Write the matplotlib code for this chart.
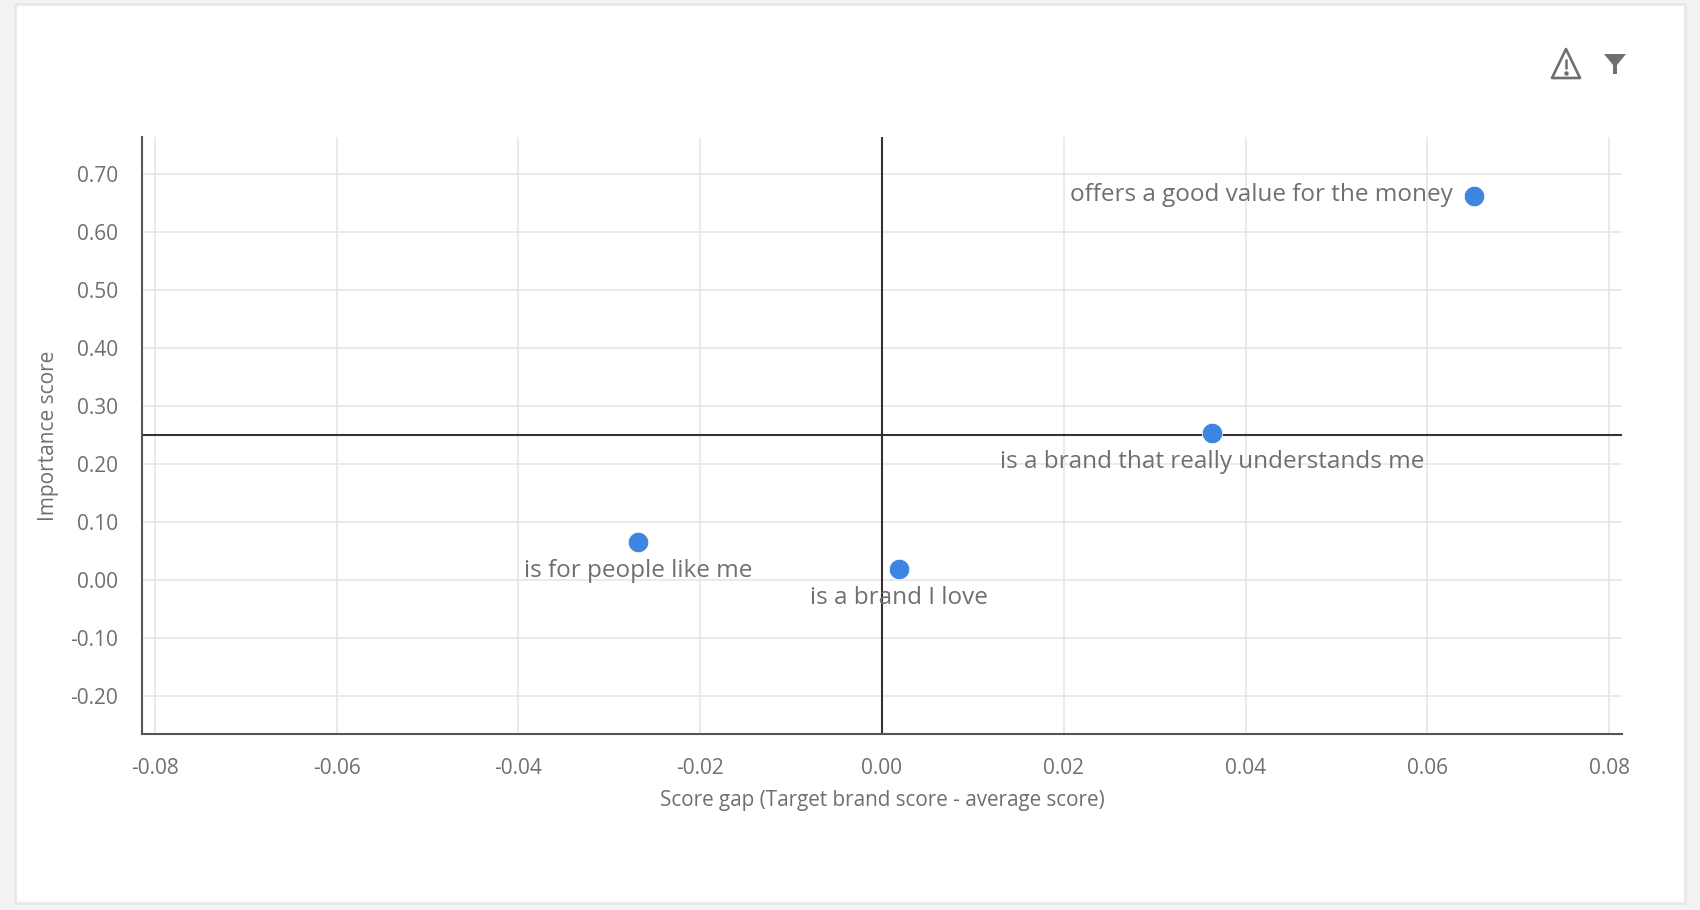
import matplotlib
matplotlib.use("Agg")
import matplotlib.pyplot as plt
from matplotlib.patches import Polygon, Rectangle

plt.rcParams['font.family'] = ['Open Sans', 'DejaVu Sans']

# values
labels = ["offers a good value for the money", "is a brand that really understands me",
          "is for people like me", "is a brand I love"]
score_gap = [0.0651, 0.0363, -0.0268, 0.0019]
importance = [0.662, 0.2535, 0.0655, 0.0185]
x_ticks = [-0.08, -0.06, -0.04, -0.02, 0.00, 0.02, 0.04, 0.06, 0.08]
y_ticks = [-0.20, -0.10, 0.00, 0.10, 0.20, 0.30, 0.40, 0.50, 0.60, 0.70]
mean_x = 0.0
mean_y = 0.2495

W, H = 1700, 910
text_color = "#6f6f6f"
grid_color = "#e6e6e6"
axis_color = "#555555"

fig = plt.figure(figsize=(W / 100, H / 100), dpi=100, facecolor="#f3f3f3")

# page background, the card and the icons, in pixel coordinates
bg = fig.add_axes([0, 0, 1, 1])
bg.set_xlim(0, W)
bg.set_ylim(H, 0)
bg.axis("off")
bg.add_patch(Rectangle((15, 4), 1670, 899, facecolor="white", edgecolor="#e8e8e8", linewidth=2))

# warning icon
bg.add_patch(Polygon([(1566, 49), (1552, 78), (1580, 78)], closed=True, facecolor="none",
                     edgecolor=text_color, linewidth=1.9, joinstyle="round"))
bg.plot([1566, 1566], [59, 69], color=text_color, linewidth=1.8, solid_capstyle="butt")
bg.plot([1566], [72.5], "o", color=text_color, markersize=2.2)

# filter icon
bg.add_patch(Polygon([(1604, 54), (1626, 54), (1617, 65), (1617, 74), (1613, 74), (1613, 65)],
                     closed=True, facecolor=text_color, edgecolor="none"))

ax = fig.add_axes([142 / W, 1 - 734 / H, (1622 - 142) / W, (734 - 137) / H])
ax.patch.set_alpha(0)
ax.set_xlim(-0.0814, 0.0814)
ax.set_ylim(-0.2664, 0.7645)

ax.set_xticks(x_ticks)
ax.set_xticklabels(["%.2f" % v for v in x_ticks])
ax.set_yticks(y_ticks)
ax.set_yticklabels(["%.2f" % v for v in y_ticks])
ax.tick_params(axis="both", length=0, labelsize=15, labelcolor=text_color)
ax.tick_params(axis="x", pad=17)
ax.tick_params(axis="y", pad=17.5)
ax.grid(True, color=grid_color, linewidth=1.2)
ax.set_axisbelow(True)

for side in ["top", "right"]:
    ax.spines[side].set_visible(False)
for side in ["left", "bottom"]:
    ax.spines[side].set_color(axis_color)
    ax.spines[side].set_linewidth(1.5)

ax.axvline(mean_x, color="#333333", linewidth=1.5, zorder=2)
ax.axhline(mean_y, color="#333333", linewidth=1.5, zorder=2)

ax.scatter(score_gap, importance, s=215, color="#3d85e0", edgecolor="white", linewidth=0.5, zorder=3)

ax.annotate(labels[0], (score_gap[0], importance[0]), xytext=(-15.5, 1), textcoords="offset points",
            ha="right", va="center", fontsize=17.45, color=text_color, zorder=4)
for i in [1, 2, 3]:
    ax.annotate(labels[i], (score_gap[i], importance[i]), xytext=(0, -21), textcoords="offset points",
                ha="center", va="center", fontsize=17.45, color=text_color, zorder=4)

ax.set_xlabel("Score gap (Target brand score - average score)", fontsize=14.85, color=text_color, labelpad=8)
ax.set_ylabel("Importance score", fontsize=15, color=text_color, labelpad=7.5)

fig.savefig("out.png", dpi=100, facecolor=fig.get_facecolor())
